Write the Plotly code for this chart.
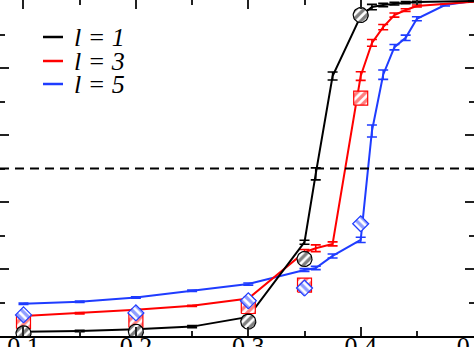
import numpy as np
import plotly.graph_objects as go

# ---------------- data ----------------
x_l1 = [0.1, 0.15, 0.2, 0.25, 0.3, 0.35, 0.36, 0.375, 0.4, 0.41, 0.42, 0.43, 0.44, 0.45, 0.5]
y_l1 = [0.013, 0.015, 0.020, 0.028, 0.057, 0.28, 0.484, 0.776, 0.955, 0.982, 0.988, 0.992, 0.995, 0.997, 1.0]
e_l1 = [0.002, 0.002, 0.002, 0.003, 0.004, 0.006, 0.018, 0.012, 0.006, 0.008, 0.005, 0.004, 0.003, 0.002, 0.001]

x_l3 = [0.1, 0.15, 0.2, 0.25, 0.3, 0.35, 0.36, 0.375, 0.4, 0.41, 0.42, 0.43, 0.44, 0.45, 0.5]
y_l3 = [0.060, 0.068, 0.078, 0.090, 0.112, 0.250, 0.262, 0.275, 0.776, 0.875, 0.922, 0.958, 0.973, 0.985, 0.998]
e_l3 = [0.002, 0.002, 0.002, 0.002, 0.003, 0.008, 0.010, 0.006, 0.013, 0.010, 0.008, 0.006, 0.004, 0.003, 0.001]

x_l5 = [0.1, 0.15, 0.2, 0.25, 0.3, 0.35, 0.36, 0.375, 0.4, 0.41, 0.42, 0.43, 0.44, 0.45, 0.475, 0.5]
y_l5 = [0.096, 0.102, 0.115, 0.135, 0.155, 0.197, 0.203, 0.239, 0.287, 0.612, 0.780, 0.862, 0.890, 0.947, 0.988, 1.0]
e_l5 = [0.002, 0.002, 0.002, 0.002, 0.003, 0.004, 0.005, 0.006, 0.008, 0.018, 0.014, 0.008, 0.008, 0.006, 0.003, 0.001]

circ_x = [0.1, 0.2, 0.3, 0.35, 0.4]
circ_y = [0.008, 0.013, 0.043, 0.230, 0.958]
sq_x = [0.1, 0.2, 0.3, 0.35, 0.4]
sq_y = [0.043, 0.046, 0.088, 0.152, 0.710]
dia_x = [0.1, 0.2, 0.3, 0.35, 0.4]
dia_y = [0.063, 0.069, 0.105, 0.143, 0.335]

legend_labels = ["l = 1", "l = 3", "l = 5"]
xtick_vals = [0.1, 0.2, 0.3, 0.4, 0.5]
xtick_text = ["0.1", "0.2", "0.3", "0.4", "0.5"]

# ---------------- layout geometry ----------------
W, H = 474, 347
M_B = 11
XR = [0.0791, 0.5008]
YR = [0.0, 1.003]
plot_w = W
plot_h = H - M_B
sx = (XR[1] - XR[0]) / plot_w   # data units per px
sy = (YR[1] - YR[0]) / plot_h

BLACK = "#000000"
RED = "#ff0000"
BLUE = "#1f3cff"

fig = go.Figure()

for xs, ys, es, col in [(x_l5, y_l5, e_l5, BLUE), (x_l3, y_l3, e_l3, RED), (x_l1, y_l1, e_l1, BLACK)]:
    fig.add_trace(go.Scatter(
        x=xs, y=ys, mode="lines",
        line=dict(color=col, width=2),
        error_y=dict(type="data", array=es, visible=True, color=col, thickness=1.6, width=5),
        showlegend=False, hoverinfo="skip"))

fig.add_hline(y=0.5, line=dict(color="black", width=2, dash="9px,6px"))


def shape_path(cx_list, cy_list, kind):
    xs, ys = [], []
    for cx, cy in zip(cx_list, cy_list):
        if kind == "circle":
            t = np.linspace(0, 2 * np.pi, 41)
            r = 7.5
            px, py = r * np.cos(t), r * np.sin(t)
        elif kind == "square":
            h = 7
            px = np.array([-h, h, h, -h, -h])
            py = np.array([-h, -h, h, h, -h])
        else:
            h = 8
            px = np.array([0, h, 0, -h, 0])
            py = np.array([-h, 0, h, 0, -h])
        xs += list(cx + px * sx) + [None]
        ys += list(cy + py * sy) + [None]
    return xs, ys


for cxs, cys, kind, col, pat in [(sq_x, sq_y, "square", RED, "/"),
                                 (circ_x, circ_y, "circle", BLACK, "/"),
                                 (dia_x, dia_y, "diamond", BLUE, "\\")]:
    xs, ys = shape_path(cxs, cys, kind)
    fig.add_trace(go.Scatter(
        x=xs, y=ys, mode="lines", fill="toself",
        fillcolor="white",
        fillpattern=dict(shape=pat, fgcolor=col, bgcolor="white", size=6, solidity=0.55),
        line=dict(color=col, width=1.2),
        showlegend=False, hoverinfo="skip"))

# legend drawn manually
leg_y_px = [37, 61, 84]
for lab, col, py in zip(legend_labels, [BLACK, RED, BLUE], leg_y_px):
    yp = (plot_h - py) / plot_h
    fig.add_shape(type="line", xref="paper", yref="paper",
                  x0=43 / W, x1=63 / W, y0=yp, y1=yp,
                  line=dict(color=col, width=2.5))
    fig.add_annotation(xref="paper", yref="paper", x=72 / W, y=yp,
                       xanchor="left", yanchor="middle", showarrow=False,
                       text="<i>" + lab + "</i>",
                       font=dict(family="Liberation Serif", size=26, color="black"))

axis_common = dict(showline=True, linecolor="black", linewidth=2, mirror="allticks",
                   ticks="inside", ticklen=9, tickwidth=1.5, tickcolor="#222",
                   showgrid=False, zeroline=False)

fig.update_xaxes(range=XR, tickvals=xtick_vals, ticktext=xtick_text,
                 tickfont=dict(family="Liberation Serif", size=26, color="black"),
                 ticklabelstandoff=-14, ticklabeloverflow="allow",
                 minor=dict(ticks="inside", ticklen=5, tickwidth=1.5, tickcolor="#222", dtick=0.05, tick0=0, showgrid=False),
                 automargin=False, **axis_common)
fig.update_yaxes(range=YR, dtick=0.2, tick0=0, showticklabels=False,
                 minor=dict(ticks="inside", ticklen=5, tickwidth=1.5, tickcolor="#222", dtick=0.1, tick0=0, showgrid=False),
                 automargin=False, **axis_common)

fig.update_layout(width=W, height=H, margin=dict(l=0, r=0, t=0, b=M_B, pad=0),
                  plot_bgcolor="white", paper_bgcolor="white", showlegend=False)

fig.write_html("out.html", config={"displayModeBar": False})
